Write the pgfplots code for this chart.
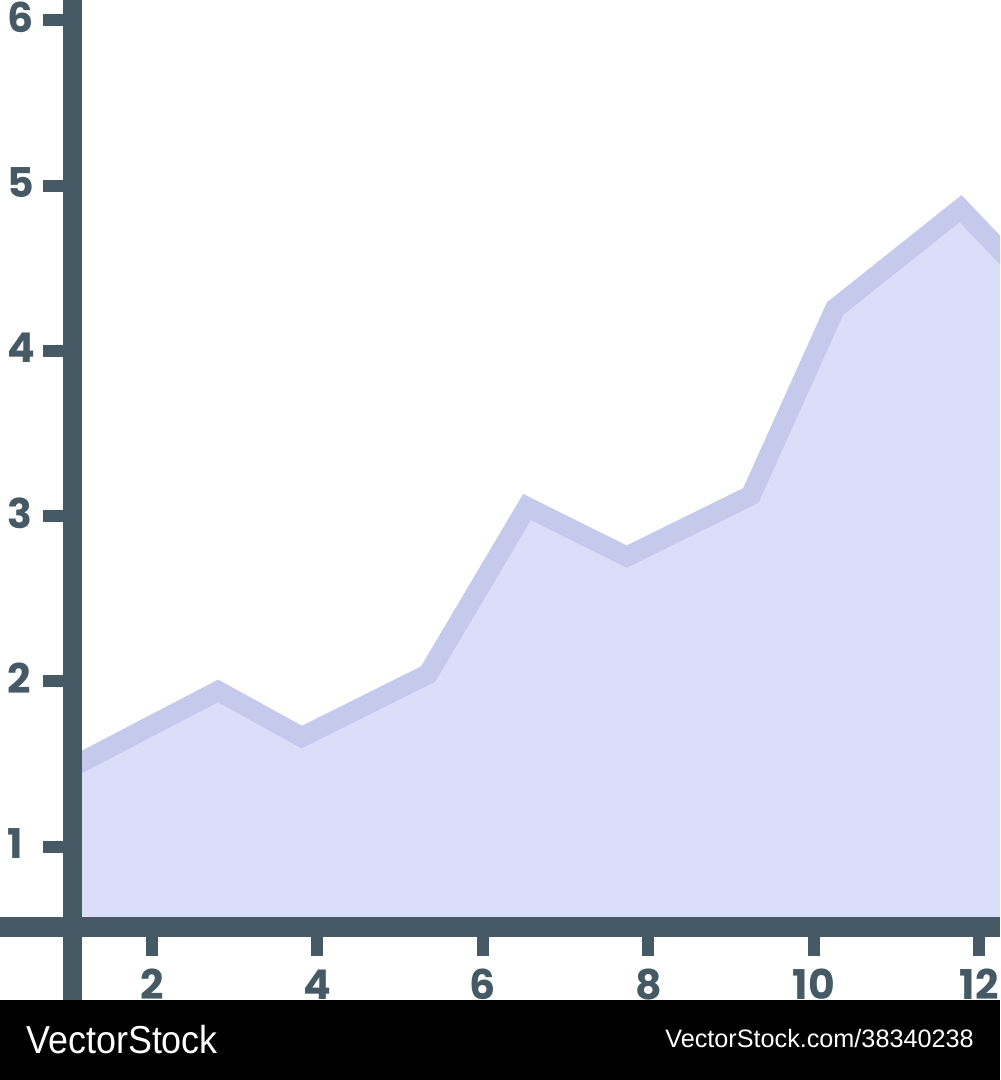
\documentclass[border=0pt]{standalone}
\usepackage{fontspec}
\setmainfont{Poppins}
\newfontfamily\wmfont{Liberation Sans}
\usepackage{pgfplots}
\usepackage{pgfplotstable}
\pgfplotsset{compat=1.18}
\definecolor{slate}{HTML}{455A64}
\definecolor{fillc}{HTML}{DADEF8}
\definecolor{linec}{HTML}{C5CAEC}
\pgfplotstableread{
x y
1.037 1.482
2.798 1.942
3.810 1.663
5.337 2.044
6.533 3.055
7.738 2.755
9.238 3.125
10.256 4.256
11.773 4.861
12.25 4.611
}\datatable
\begin{document}
\begin{tikzpicture}
\begin{axis}[
  at={(36.15pt,76.5pt)}, anchor=south west,
  scale only axis, width=463.85pt, height=463.5pt,
  xmin=1.037, xmax=12.25, ymin=0.513, ymax=6.124,
  axis lines*=left,
  axis line style={draw=none},
  xtick={2,4,6,8,10,12}, ytick={1,2,3,4,5,6},
  minor tick num=0,
  tick align=outside,
  major tick length=14.6pt,
  tick style={line width=6pt, color=slate},
  /pgf/number format/assume math mode=true,
  ticklabel style={font=\fontsize{20.5pt}{24pt}\selectfont\bfseries, text=slate, inner sep=0pt},
  xticklabel style={anchor=center, yshift=-14.25pt},
  yticklabel style={anchor=west, xshift=-18pt, yshift=1.5pt},
]
\addplot[draw=none, fill=fillc] table[x=x, y=y] {\datatable} \closedcycle;
\addplot[line width=10pt, color=linec, line join=miter, line cap=rect] table[x=x, y=y] {\datatable};
\end{axis}
\draw[slate, line width=9.65pt] (36.15pt,0pt) -- (36.15pt,540pt);
\draw[slate, line width=9.75pt] (0pt,76.5pt) -- (500pt,76.5pt);
\fill[black] (0pt,0pt) rectangle (500pt,40pt);
\node[anchor=west, inner sep=0pt, text=white, xscale=0.92, font=\wmfont\fontsize{19.5pt}{22pt}\selectfont] at (13pt,20pt) {VectorStock};
\node[anchor=east, inner sep=0pt, text=white, font=\wmfont\fontsize{12.6pt}{15pt}\selectfont] at (487pt,21pt) {VectorStock.com/38340238};
\pgfresetboundingbox
\useasboundingbox (0pt,0pt) rectangle (500pt,540pt);
\end{tikzpicture}
\end{document}
